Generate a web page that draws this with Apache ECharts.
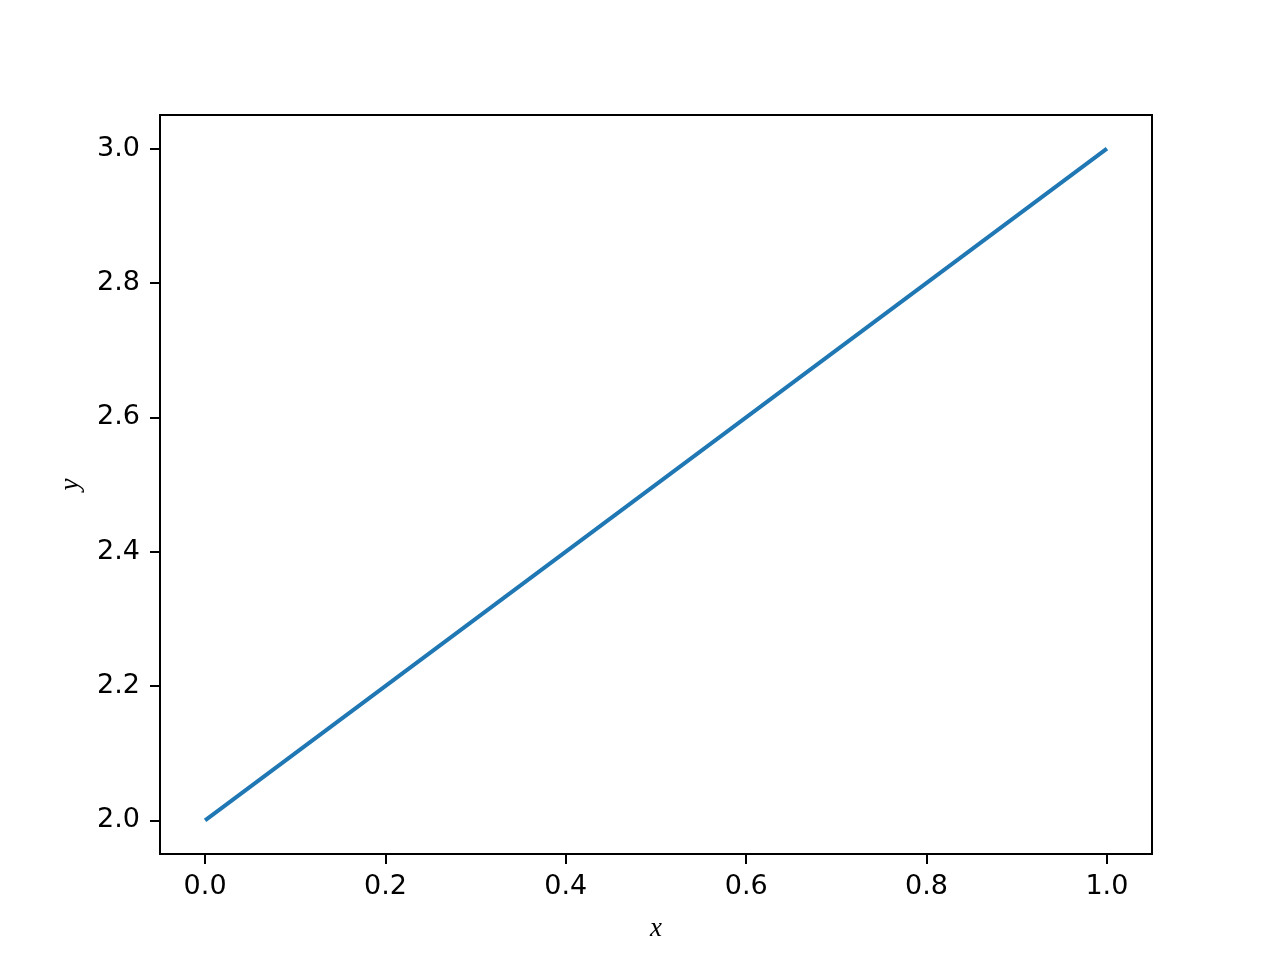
<!DOCTYPE html>
<html>
<head>
<meta charset="utf-8">
<script src="https://cdn.jsdelivr.net/npm/echarts@6/dist/echarts.min.js"></script>
<style>html,body{margin:0;padding:0;background:#fff}#c{width:1280px;height:960px}</style>
</head>
<body>
<div id="c"></div>
<script>
const xValues = [0, 1];
const yValues = [2, 3];
const xTicks = [0, 0.2, 0.4, 0.6, 0.8, 1.0];
const yTicks = [2.0, 2.2, 2.4, 2.6, 2.8, 3.0];

const chart = echarts.init(document.getElementById('c'), null, {renderer: 'canvas'});
const tickFont = {fontFamily: 'DejaVu Sans', fontSize: 27, color: '#000'};
const nameFont = {fontFamily: 'Liberation Serif', fontStyle: 'italic', fontSize: 27, color: '#000'};
chart.setOption({
  animation: false,
  backgroundColor: '#fff',
  grid: {left: 160, right: 128, top: 115, bottom: 106, show: true, borderColor: '#000', borderWidth: 2, backgroundColor: 'transparent'},
  xAxis: {
    type: 'value', min: -0.05, max: 1.05,
    name: 'x', nameLocation: 'middle', nameGap: 61, nameTextStyle: nameFont,
    axisLine: {show: false, onZero: false},
    splitLine: {show: false},
    axisTick: {show: true, length: 10, lineStyle: {color: '#000', width: 2}, customValues: xTicks},
    axisLabel: Object.assign({margin: 19, customValues: xTicks, formatter: v => v.toFixed(1)}, tickFont)
  },
  yAxis: {
    type: 'value', min: 1.95, max: 3.05,
    name: 'y', nameLocation: 'middle', nameGap: 76, nameTextStyle: nameFont,
    axisLine: {show: false, onZero: false},
    splitLine: {show: false},
    axisTick: {show: true, length: 10, lineStyle: {color: '#000', width: 2}, customValues: yTicks},
    axisLabel: Object.assign({margin: 20, customValues: yTicks, formatter: v => v.toFixed(1)}, tickFont)
  },
  series: [{
    type: 'line',
    data: xValues.map((x, i) => [x, yValues[i]]),
    showSymbol: false,
    lineStyle: {color: '#1f77b4', width: 4},
    itemStyle: {color: '#1f77b4'}
  }]
});
</script>
</body>
</html>
